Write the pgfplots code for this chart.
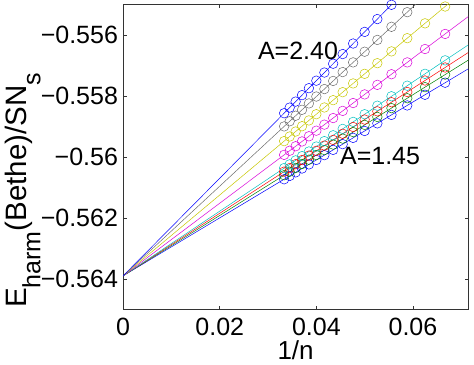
\documentclass[border=0pt]{standalone}
\usepackage{fontspec}
\setmainfont{Liberation Sans}
\usepackage{pgfplots}
\usepackage{pgfplotstable}
\pgfplotsset{compat=1.18}
\definecolor{mblue}{rgb}{0,0,1}
\definecolor{mgray}{rgb}{0.42,0.42,0.42}
\definecolor{myellow}{rgb}{0.78,0.78,0}
\definecolor{mmag}{rgb}{0.85,0,0.85}
\definecolor{mcyan}{rgb}{0,0.75,0.75}
\definecolor{mred}{rgb}{1,0,0}
\definecolor{mgreen}{rgb}{0,0.5,0}

\pgfplotstableread{
x        a         b         c         d         e         f         g         h
0        -0.5639   -0.5639   -0.5639   -0.5639   -0.5639   -0.5639   -0.5639   -0.5639
0.033333 -0.558567 -0.559    -0.559483 -0.559933 -0.560367 -0.560483 -0.5606   -0.560733
0.034483 -0.558383 -0.558831 -0.559331 -0.559797 -0.560245 -0.560366 -0.560486 -0.560624
0.035714 -0.558186 -0.55865  -0.559168 -0.55965  -0.560114 -0.560239 -0.560364 -0.560507
0.037037 -0.557974 -0.558456 -0.558993 -0.559493 -0.559974 -0.560104 -0.560233 -0.560381
0.038462 -0.557746 -0.558246 -0.558804 -0.559323 -0.559823 -0.559958 -0.560092 -0.560246
0.040000 -0.5575   -0.55802  -0.5586   -0.55914  -0.55966  -0.5598   -0.55994  -0.5601
0.041667 -0.557233 -0.557775 -0.558379 -0.558942 -0.559483 -0.559629 -0.559775 -0.559942
0.043478 -0.556944 -0.557509 -0.558139 -0.558726 -0.559291 -0.559443 -0.559596 -0.55977
0.045455 -0.556627 -0.557218 -0.557877 -0.558491 -0.559082 -0.559241 -0.5594   -0.559582
0.047619 -0.556281 -0.5569   -0.55759  -0.558233 -0.558852 -0.559019 -0.559186 -0.559376
0.050000 -0.5559   -0.55655  -0.557275 -0.55795  -0.5586   -0.558775 -0.55895  -0.55915
0.052632 -0.555479 -0.556163 -0.556926 -0.557637 -0.558321 -0.558505 -0.558689 -0.5589
0.055556 -0.555011 -0.555733 -0.556539 -0.557289 -0.558011 -0.558206 -0.5584   -0.558622
0.058824 -0.554488 -0.555253 -0.556106 -0.5569   -0.557665 -0.557871 -0.558076 -0.558312
0.062500 -0.5539   -0.554712 -0.555619 -0.556462 -0.557275 -0.557494 -0.557712 -0.557962
0.066667 -0.553233 -0.5541   -0.555067 -0.555967 -0.556833 -0.557067 -0.5573   -0.557567
0.071429 -0.552471 -0.5534   -0.554436 -0.5554   -0.556329 -0.556579 -0.556829 -0.557114
}\data

\begin{document}
\begin{tikzpicture}
\begin{axis}[name=ax,
  scale only axis, width=345bp, height=305bp,
  xmin=0, xmax=0.0714, ymin=-0.565, ymax=-0.555,
  scaled ticks=false,
  xtick={0,0.02,0.04,0.06}, xticklabels={0,0.02,0.04,0.06},
  ytick={-0.564,-0.562,-0.56,-0.558,-0.556},
  yticklabels={−0.564,−0.562,−0.56,−0.558,−0.556},
  tick align=inside, major tick length=3.5bp,
  axis line style={line width=0.6pt, black!80},
  every tick/.style={black!80, line width=0.5pt},
  tick label style={font=\fontsize{25bp}{29bp}\selectfont, inner sep=0pt},
  xticklabel style={yshift=-9bp},
  yticklabel style={xshift=-5bp},
  xlabel={1/n}, xlabel style={font=\fontsize{26bp}{30bp}\selectfont, inner sep=0pt, yshift=-4bp},
  ylabel={E\raisebox{-14bp}{\fontsize{25bp}{27bp}\selectfont harm}(Bethe)/SN\raisebox{-14bp}{\fontsize{25bp}{27bp}\selectfont s}},
  ylabel style={font=\fontsize{29.5bp}{33bp}\selectfont, inner sep=0pt, at={(ticklabel cs:0.39)}},
]
\addplot[mblue, line width=0.5pt] table[x=x,y=h]{\data};
\addplot[mblue, only marks, mark=o, mark size=4.8bp, mark options={line width=0.5pt}, skip coords between index={0}{1}] table[x=x,y=h]{\data};
\addplot[mgreen, line width=0.5pt] table[x=x,y=g]{\data};
\addplot[mgreen, only marks, mark=o, mark size=4.8bp, mark options={line width=0.5pt}, skip coords between index={0}{1}] table[x=x,y=g]{\data};
\addplot[mred, line width=0.5pt] table[x=x,y=f]{\data};
\addplot[mred, only marks, mark=o, mark size=4.8bp, mark options={line width=0.5pt}, skip coords between index={0}{1}] table[x=x,y=f]{\data};
\addplot[mcyan, line width=0.5pt] table[x=x,y=e]{\data};
\addplot[mcyan, only marks, mark=o, mark size=4.8bp, mark options={line width=0.5pt}, skip coords between index={0}{1}] table[x=x,y=e]{\data};
\addplot[mmag, line width=0.5pt] table[x=x,y=d]{\data};
\addplot[mmag, only marks, mark=o, mark size=4.8bp, mark options={line width=0.5pt}, skip coords between index={0}{1}] table[x=x,y=d]{\data};
\addplot[myellow, line width=0.5pt] table[x=x,y=c]{\data};
\addplot[myellow, only marks, mark=o, mark size=4.8bp, mark options={line width=0.5pt}, skip coords between index={0}{1}] table[x=x,y=c]{\data};
\addplot[mgray, line width=0.5pt] table[x=x,y=b]{\data};
\addplot[mgray, only marks, mark=o, mark size=4.8bp, mark options={line width=0.5pt}, skip coords between index={0}{1}] table[x=x,y=b]{\data};
\addplot[mblue, line width=0.5pt] table[x=x,y=a]{\data};
\addplot[mblue, only marks, mark=o, mark size=4.8bp, mark options={line width=0.5pt}, skip coords between index={0}{1}] table[x=x,y=a]{\data};
\node[font=\fontsize{25bp}{29bp}\selectfont, inner sep=0pt] at (axis cs:0.0362,-0.55652) {A=2.40};
\node[font=\fontsize{25bp}{29bp}\selectfont, inner sep=0pt] at (axis cs:0.0532,-0.55998) {A=1.45};
\end{axis}
\path (ax.north east) ++(6bp,4bp);
\path (ax.south) ++(0,-55bp);
\path (current bounding box.west) ++(-5bp,0);
\end{tikzpicture}
\end{document}
